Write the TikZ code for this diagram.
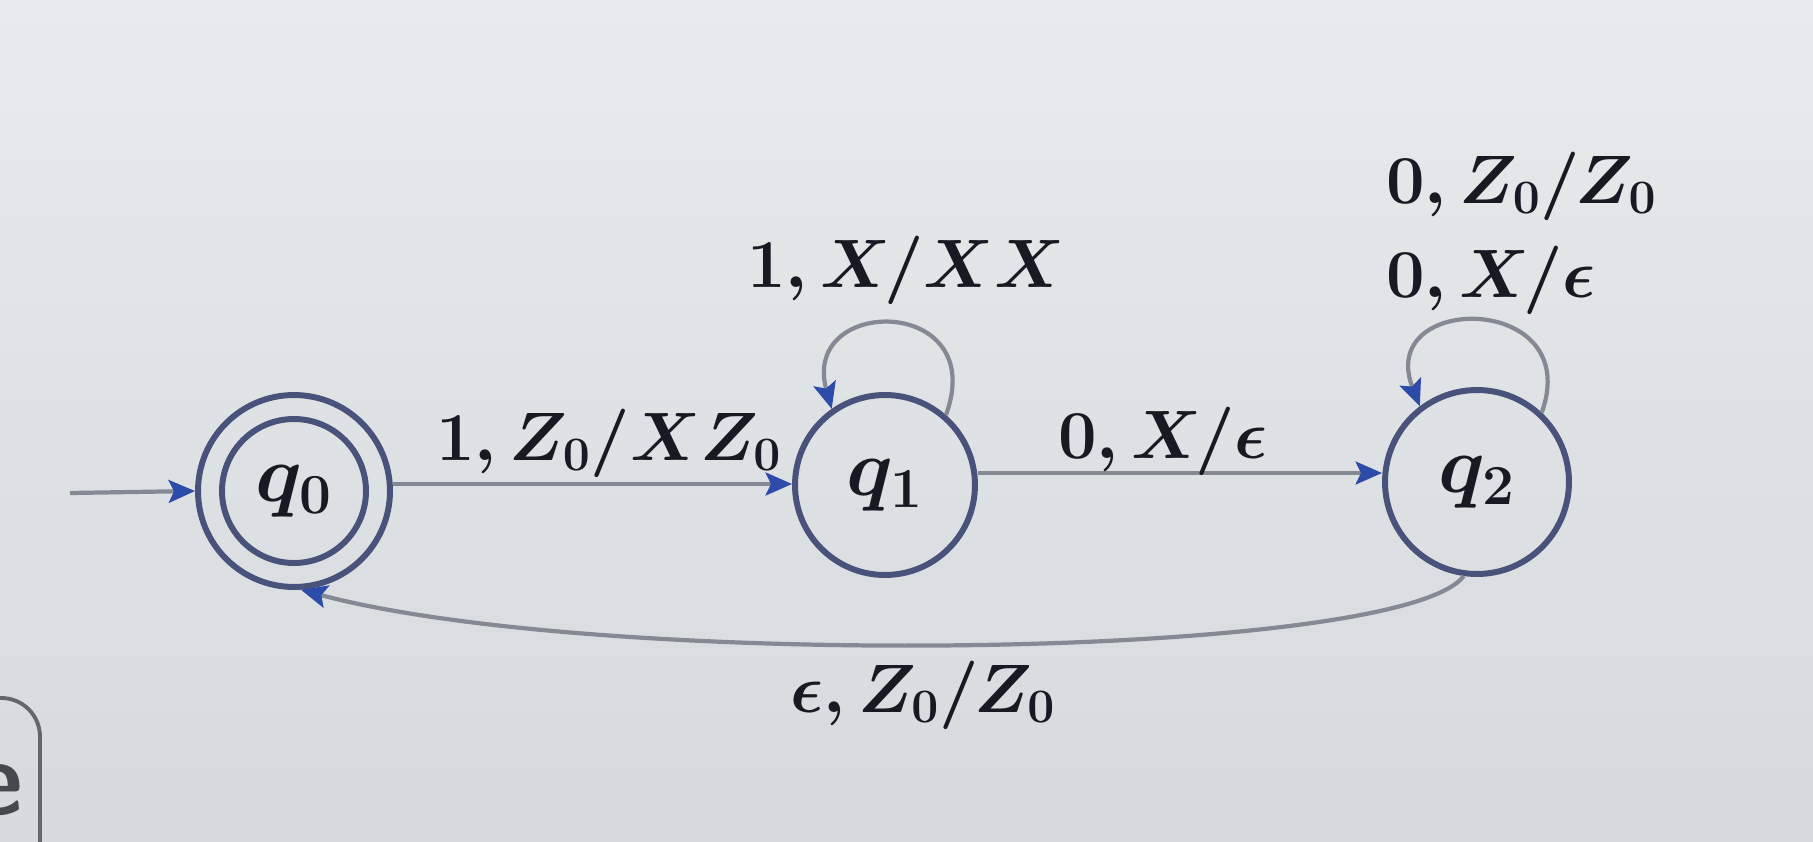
\RequirePackage{fix-cm}
\documentclass[tikz,border=0pt]{standalone}
\usepackage{amsmath}
\usetikzlibrary{arrows.meta}
\definecolor{bgtop}{RGB}{232,234,235}
\definecolor{bgbot}{RGB}{214,218,221}
\definecolor{circ}{RGB}{72,82,122}
\definecolor{edgecol}{RGB}{132,137,148}
\definecolor{tipblue}{RGB}{45,75,168}
\definecolor{txt}{RGB}{25,25,35}
\begin{document}
\begin{tikzpicture}[x=0.02cm,y=-0.02cm,
  statenode/.style={circle,draw=circ,line width=3.4pt,inner sep=0pt,text=txt,
    font=\fontsize{46}{56}\selectfont\boldmath},
  edgeline/.style={draw=edgecol,line width=2.4pt,
    -{Stealth[length=15pt,width=13pt,inset=3pt,color=tipblue]}},
  lbl/.style={text=txt,inner sep=0pt,font=\fontsize{39}{47}\selectfont\boldmath}]
\useasboundingbox (0,0) rectangle (1813,842);
\clip (0,0) rectangle (1813,842);
\shade[top color=bgtop,bottom color=bgbot] (0,0) rectangle (1813,842);
% states
\node[statenode,minimum size=3.84cm] (q0) at (294,491) {$q_0$};
\draw[circ,line width=3.4pt] (q0.center) circle[radius=72];
\node[statenode,minimum size=3.6cm] (q1) at (885,485) {$q_1$};
\node[statenode,minimum size=3.68cm] (q2) at (1477,482) {$q_2$};
% start arrow
\coordinate (start) at (70,493);
\draw[edgeline] (start) -- (q0.west);
% transitions
\draw[edgeline] (q0.east |- 0,484) -- (q1.west |- 0,484);
\draw[edgeline] (q1.east |- 0,473) -- (q2.west |- 0,473);
\draw[edgeline] (q1.49) .. controls (990,295) and (800,295) .. (q1.125);
\draw[edgeline] (q2.47) .. controls (1585,292) and (1375,292) .. (q2.127);
\draw[edgeline] (q2.-98) .. controls (1400,660) and (600,670) .. (q0.-86);
% labels
\node[lbl,anchor=base west] (l01) at (436,460) {$1, Z_0/XZ_0$};
\node[lbl,anchor=base west] (l11) at (747,287) {$1, X/XX$};
\node[lbl,anchor=base west] (l12) at (1058,458) {$0, X/\epsilon$};
\node[lbl,anchor=base west] (l22a) at (1386,203) {$0, Z_0/Z_0$};
\node[lbl,anchor=base west] (l22b) at (1386,297) {$0, X/\epsilon$};
\node[lbl,anchor=base west] (l20) at (790,712) {$\epsilon, Z_0/Z_0$};
% partial UI box at bottom left
\draw[gray!80!black,line width=2.2pt,rounded corners=22] (-60,698) rectangle (40,900);
\node[text=txt!80,inner sep=0pt,font=\fontsize{60}{70}\selectfont\sffamily\bfseries] (ebox) at (-4,790) {e};
\end{tikzpicture}
\end{document}
